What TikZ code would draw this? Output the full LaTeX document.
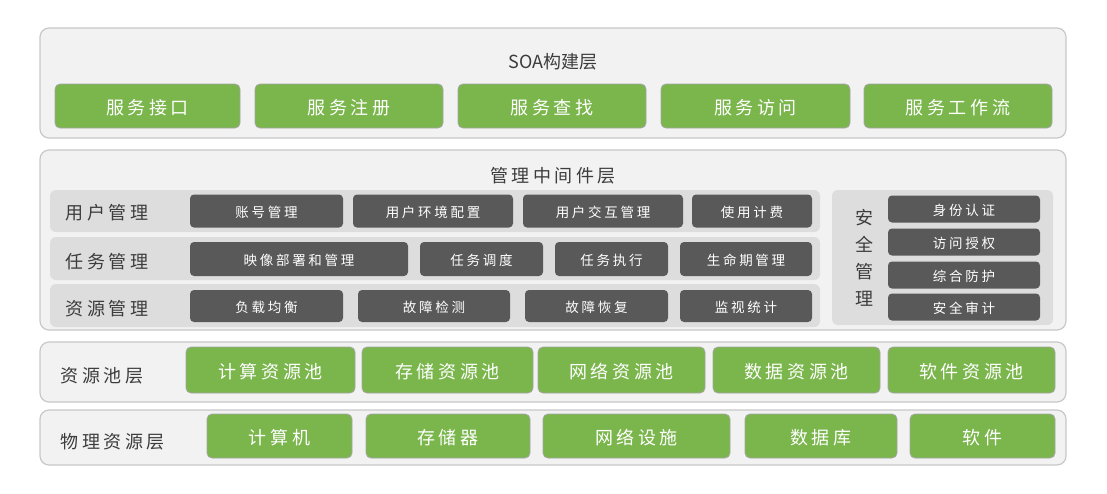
\documentclass[tikz,border=0pt]{standalone}
\usepackage{fontspec}
\setmainfont{Noto Sans CJK SC}
\newfontfamily\cjkwide[LetterSpace=20]{Noto Sans CJK SC}
\usetikzlibrary{positioning}
\definecolor{BoxGreen}{RGB}{122,182,76}
\definecolor{BoxDark}{RGB}{89,89,89}
\definecolor{PanelGray}{RGB}{242,242,242}
\definecolor{BandGray}{RGB}{221,221,221}
\definecolor{EdgeGray}{RGB}{200,200,200}
\definecolor{LabelGray}{RGB}{60,60,60}

\begin{document}
\begin{tikzpicture}[
    x=1pt, y=-1pt,
    layer/.style={draw=EdgeGray, line width=1.2pt, fill=PanelGray, rounded corners=9pt},
    band/.style={fill=BandGray, rounded corners=6pt},
    greenbox/.style={draw=black!35, line width=0.8pt, fill=BoxGreen, rounded corners=5pt,
        text=white, text height=18pt, text depth=2pt,
        font=\cjkwide\fontsize{18}{20}\selectfont},
    darkbox/.style={fill=BoxDark, rounded corners=4pt,
        text=white, text height=13pt, text depth=1pt,
        font=\cjkwide\fontsize{13.5}{16}\selectfont},
    title/.style={text=LabelGray, font=\cjkwide\fontsize{18}{20}\selectfont},
    rowlabel/.style={title, anchor=west},
]
\useasboundingbox (0,0) rectangle (1107,493);

% SOA layer
\node[layer, minimum width=1026, minimum height=110] (soa) at (553,83) {};
\node[title, font=\fontsize{18}{20}\selectfont] (soatitle) at (553,62) {SOA构建层};
\node[greenbox, minimum width=185, minimum height=44] (s1) at (147.5,106) {服务接口};
\node[greenbox, minimum width=188, minimum height=44] (s2) at (349,106) {服务注册};
\node[greenbox, minimum width=188, minimum height=44] (s3) at (552,106) {服务查找};
\node[greenbox, minimum width=189, minimum height=44] (s4) at (755.5,106) {服务访问};
\node[greenbox, minimum width=188, minimum height=44] (s5) at (958,106) {服务工作流};

% management middleware layer
\node[layer, minimum width=1026, minimum height=180] (mid) at (553,240) {};
\node[title] (midtitle) at (553,176) {管理中间件层};
\node[band, minimum width=770, minimum height=42] (band1) at (435,211) {};
\node[band, minimum width=770, minimum height=43] (band2) at (435,258.5) {};
\node[band, minimum width=770, minimum height=43] (band3) at (435,305.5) {};
\node[rowlabel] (user) at (62,213) {用户管理};
\node[rowlabel] (task) at (62,262) {任务管理};
\node[rowlabel] (res) at (62,309) {资源管理};

\node[darkbox, minimum width=153, minimum height=33] (u1) at (266.5,211) {账号管理};
\node[darkbox, minimum width=160, minimum height=33] (u2) at (433,211) {用户环境配置};
\node[darkbox, minimum width=160, minimum height=33] (u3) at (603,211) {用户交互管理};
\node[darkbox, minimum width=120, minimum height=33] (u4) at (752,211) {使用计费};

\node[darkbox, minimum width=218, minimum height=34] (t1) at (299,259) {映像部署和管理};
\node[darkbox, minimum width=123, minimum height=34] (t2) at (481.5,259) {任务调度};
\node[darkbox, minimum width=113, minimum height=34] (t3) at (611.5,259) {任务执行};
\node[darkbox, minimum width=132, minimum height=34] (t4) at (746,259) {生命期管理};

\node[darkbox, minimum width=153, minimum height=32] (r1) at (266.5,306) {负载均衡};
\node[darkbox, minimum width=152, minimum height=32] (r2) at (434,306) {故障检测};
\node[darkbox, minimum width=143, minimum height=32] (r3) at (596.5,306) {故障恢复};
\node[darkbox, minimum width=132, minimum height=32] (r4) at (746,306) {监视统计};

\node[band, minimum width=221, minimum height=135] (secpanel) at (942.5,257.5) {};
\node[title, align=center, font=\fontsize{18}{27}\selectfont] (sec) at (864,258) {安\\全\\管\\理};
\node[darkbox, minimum width=152, minimum height=27] (a1) at (964,209) {身份认证};
\node[darkbox, minimum width=152, minimum height=27] (a2) at (964,242) {访问授权};
\node[darkbox, minimum width=152, minimum height=27] (a3) at (964,275) {综合防护};
\node[darkbox, minimum width=152, minimum height=27] (a4) at (964,307) {安全审计};

% resource pool layer
\node[layer, minimum width=1026, minimum height=60] (pool) at (553,372) {};
\node[rowlabel] (pooltitle) at (57,376) {资源池层};
\node[greenbox, minimum width=169, minimum height=46] (p1) at (270.5,370) {计算资源池};
\node[greenbox, minimum width=171, minimum height=46] (p2) at (447.5,370) {存储资源池};
\node[greenbox, minimum width=167, minimum height=46] (p3) at (621.5,370) {网络资源池};
\node[greenbox, minimum width=167, minimum height=46] (p4) at (796.5,370) {数据资源池};
\node[greenbox, minimum width=167, minimum height=46] (p5) at (971.5,370) {软件资源池};

% physical resource layer
\node[layer, minimum width=1026, minimum height=55] (phys) at (553,437.5) {};
\node[rowlabel] (physTitle) at (57,442) {物理资源层};
\node[greenbox, minimum width=145, minimum height=44] (h1) at (279.5,436) {计算机};
\node[greenbox, minimum width=164, minimum height=44] (h2) at (448,436) {存储器};
\node[greenbox, minimum width=187, minimum height=44] (h3) at (636.5,436) {网络设施};
\node[greenbox, minimum width=152, minimum height=44] (h4) at (821,436) {数据库};
\node[greenbox, minimum width=145, minimum height=44] (h5) at (982.5,436) {软件};
\end{tikzpicture}
\end{document}
